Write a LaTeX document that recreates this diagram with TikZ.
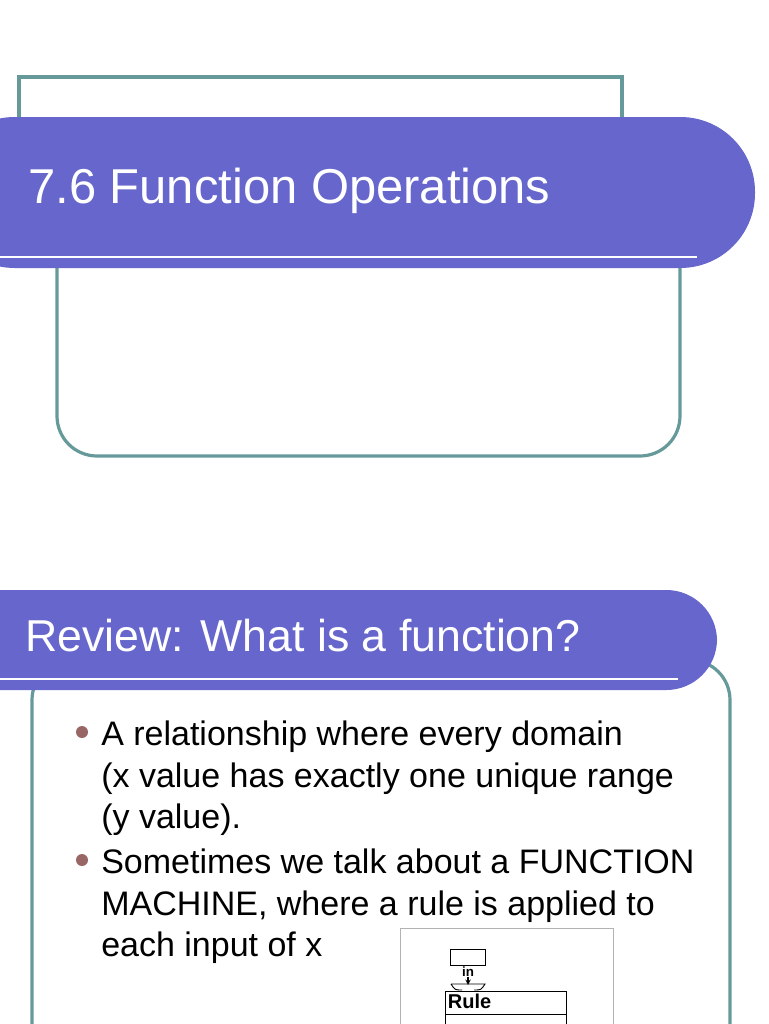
\documentclass[tikz,border=0pt]{standalone}
\usepackage{fontspec}
\setmainfont{Liberation Sans}
\begin{document}
\begin{tikzpicture}[x=0.75pt,y=-0.75pt,
  bul/.style={circle,fill=bulc,inner sep=0pt,minimum size=9pt},
  txt/.style={anchor=north west,align=left,inner sep=0pt,font=\fontsize{25.5}{31}\selectfont}]
\definecolor{ban}{HTML}{6666CC}
\definecolor{bulc}{HTML}{996666}
\definecolor{fr}{HTML}{669999}
\useasboundingbox (0,0) rectangle (768,1024);
% slide 1
\draw[draw=fr,line width=2.4pt] (19,150) -- (19,77) -- (622,77) -- (622,150);
\draw[draw=fr,line width=2.4pt,rounded corners=30pt] (57,240) -- (57,456) -- (680,456) -- (680,240);
\fill[ban,rounded corners=56pt] (-60,117) rectangle (755,268);
\draw[white,line width=2.2pt] (0,257) -- (697,257);
\node[anchor=west,text=white,inner sep=0pt,font=\fontsize{36.7}{40}\selectfont] (t1) at (28,191) {7.6 Function Operations};
% slide 2
\draw[draw=fr,line width=2.4pt,rounded corners=30pt] (32,1030) -- (32,660) -- (730,660) -- (730,1030);
\fill[ban,rounded corners=38pt] (-60,590) rectangle (717,690);
\draw[white,line width=2.2pt] (0,679) -- (678,679);
\node[anchor=west,text=white,inner sep=0pt,font=\fontsize{33.5}{38}\selectfont] (t2) at (25,636) {Review: What is a function?};
\node[bul] (b1) at (82,732) {};
\node[bul] (b2) at (82,860) {};
\node[txt] (p1) at (101,721) {A relationship where every domain\\(x value has exactly one unique range\\(y value).};
\node[txt] (p2) at (101,849) {Sometimes we talk about a FUNCTION\\MACHINE, where a rule is applied to\\each input of x};
% machine image
\draw[gray!60,line width=0.6pt] (400,1030) -- (400,928) -- (613,928) -- (613,1030);
\node[draw,minimum width=26pt,minimum height=12pt,inner sep=0pt,line width=0.7pt] (inbox) at (468,957) {};
\node[inner sep=0pt,font=\bfseries\fontsize{10}{10}\selectfont] (in) at (468,972) {in};
\draw[line width=0.8pt,-stealth] (468,977) -- (468,985);
\draw[line width=0.7pt] (451,984) .. controls (455,990) .. (462,990) (474,990) .. controls (481,990) .. (485,984) -- (451,984);
\node[draw,line width=0.7pt,minimum width=91pt,minimum height=17pt,anchor=north west,inner sep=0pt] (rule) at (445,991) {};
\node[anchor=west,inner sep=2pt,font=\bfseries\fontsize{15}{15}\selectfont] (rl) at (445,1001) {Rule};
\draw[line width=0.7pt] (445,1014) -- (445,1030) (566,1014) -- (566,1030);
\end{tikzpicture}
\end{document}
